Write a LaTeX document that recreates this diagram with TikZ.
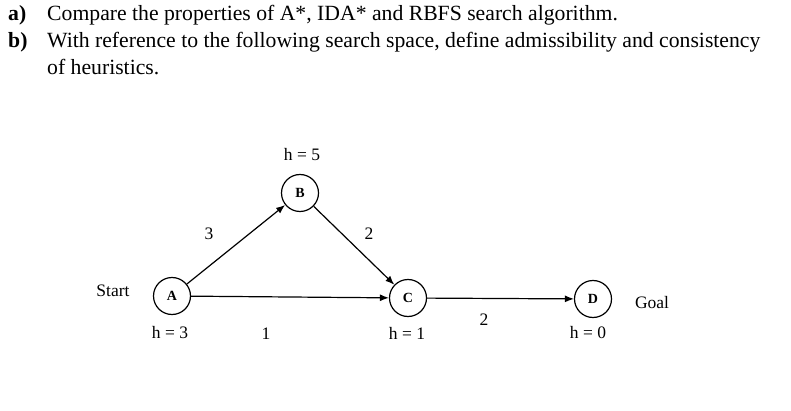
\documentclass[tikz,border=0pt]{standalone}
\usepackage{fontspec}
\setmainfont{Liberation Serif}
\usetikzlibrary{arrows.meta}
\begin{document}
\begin{tikzpicture}[x=1pt,y=-1pt,
  st/.style={circle,draw,line width=1.2pt,minimum size=37pt,inner sep=0pt,font=\fontsize{14}{14}\selectfont\bfseries},
  lb/.style={font=\fontsize{17.5}{17.5}\selectfont,inner sep=0pt},
  hd/.style={font=\fontsize{21.7}{21.7}\selectfont,inner sep=0pt,anchor=base west},
  ar/.style={-{Latex[length=9pt,width=7pt]},line width=1.2pt}]
\useasboundingbox (0,0) rectangle (791,411);
\node[hd] (la) at (8,21) {\textbf{a)}};
\node[hd] (ta) at (47,21) {Compare the properties of A*, IDA* and RBFS search algorithm.};
\node[hd] (lbb) at (8,48) {\textbf{b)}};
\node[hd] (tb) at (47,48) {With reference to the following search space, define admissibility and consistency};
\node[hd] (tc) at (47,75) {of heuristics.};
\node[st] (A) at (172,296) {A};
\node[st] (B) at (300,193) {B};
\node[st] (C) at (408,298) {C};
\node[st] (D) at (593,299) {D};
\draw[ar] (A) -- (B);
\draw[ar] (B) -- (C);
\draw[ar] (A) -- (C);
\draw[ar] (C) -- (D);
\node[lb] (hB) at (302,155) {h = 5};
\node[lb] (hA) at (170,333) {h = 3};
\node[lb] (hC) at (407,333) {h = 1};
\node[lb] (hD) at (588,333) {h = 0};
\node[lb] (e1) at (266,334) {1};
\node[lb] (e2) at (484,320) {2};
\node[lb] (e3) at (209,234) {3};
\node[lb] (e4) at (369,234) {2};
\node[lb] (s) at (113,291) {Start};
\node[lb] (g) at (652,303) {Goal};
\end{tikzpicture}
\end{document}
